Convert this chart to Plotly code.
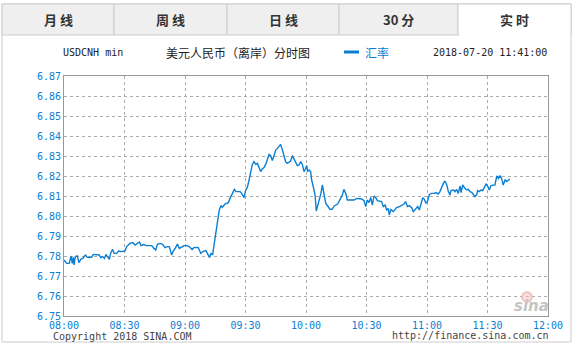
import plotly.graph_objects as go

# ---- data ----
day = "2018-07-20"
times = [
    "08:00:00", "08:01:18", "08:02:36", "08:03:30", "08:04:06", "08:04:36", "08:05:00", "08:05:36",
    "08:06:36", "08:07:24", "08:08:24", "08:09:18", "08:10:36", "08:11:36", "08:13:42", "08:14:30",
    "08:17:30", "08:18:12", "08:19:12", "08:20:00", "08:20:48", "08:21:42", "08:22:30", "08:23:06",
    "08:24:06", "08:24:54", "08:26:06", "08:27:06", "08:28:18", "08:30:12", "08:31:06", "08:32:42",
    "08:34:06", "08:35:12", "08:36:24", "08:37:24", "08:38:12", "08:39:18", "08:41:00", "08:43:30",
    "08:44:36", "08:45:30", "08:46:18", "08:47:36", "08:48:54", "08:50:06", "08:51:12", "08:52:12",
    "08:53:24", "08:54:12", "08:55:24", "08:56:12", "08:57:12", "08:58:24", "08:59:30", "09:00:48",
    "09:02:06", "09:03:30", "09:04:30", "09:06:36", "09:07:48", "09:08:48", "09:10:18", "09:11:06",
    "09:12:06", "09:12:54", "09:13:42", "09:14:24", "09:15:00", "09:15:42", "09:16:18", "09:17:00",
    "09:17:54", "09:18:30", "09:19:48", "09:21:30", "09:22:18", "09:23:30", "09:24:30", "09:25:18",
    "09:27:18", "09:28:06", "09:29:18", "09:30:06", "09:30:54", "09:31:42", "09:32:42", "09:33:24",
    "09:34:12", "09:35:06", "09:35:54", "09:36:42", "09:37:30", "09:38:18", "09:39:12", "09:40:00",
    "09:40:48", "09:41:42", "09:42:30", "09:43:18", "09:44:06", "09:45:00", "09:45:48", "09:46:36",
    "09:47:24", "09:48:18", "09:49:06", "09:49:54", "09:50:42", "09:51:36", "09:52:24", "09:53:12",
    "09:54:00", "09:54:54", "09:55:42", "09:56:30", "09:57:24", "09:58:12", "09:59:00", "09:59:30",
    "10:00:24", "10:00:48", "10:01:30", "10:02:18", "10:02:48", "10:03:36", "10:04:30", "10:05:06",
    "10:05:48", "10:06:36", "10:07:24", "10:08:06", "10:08:54", "10:09:48", "10:10:48", "10:11:54",
    "10:13:06", "10:14:00", "10:15:42", "10:16:54", "10:18:00", "10:18:48", "10:19:42", "10:20:30",
    "10:21:30", "10:22:42", "10:23:48", "10:25:06", "10:26:18", "10:27:36", "10:28:48", "10:29:36",
    "10:30:24", "10:31:12", "10:32:06", "10:32:54", "10:33:42", "10:34:36", "10:35:24", "10:36:12",
    "10:37:30", "10:38:18", "10:39:12", "10:40:00", "10:40:48", "10:41:18", "10:42:06", "10:43:18",
    "10:44:54", "10:46:18", "10:47:24", "10:48:36", "10:49:24", "10:50:18", "10:51:12", "10:52:24",
    "10:53:12", "10:54:24", "10:55:24", "10:56:12", "10:57:00", "10:57:54", "10:58:42", "10:59:30",
    "11:00:12", "11:01:12", "11:02:18", "11:03:36", "11:04:30", "11:05:36", "11:06:24", "11:07:18",
    "11:08:06", "11:08:54", "11:09:48", "11:10:36", "11:11:24", "11:11:54", "11:13:06", "11:13:54",
    "11:14:42", "11:15:30", "11:16:24", "11:16:54", "11:17:42", "11:18:48", "11:19:42", "11:20:30",
    "11:21:18", "11:22:12", "11:23:00", "11:23:48", "11:24:36", "11:25:06", "11:25:54", "11:26:48",
    "11:27:36", "11:28:24", "11:29:18", "11:30:06", "11:30:54", "11:31:42", "11:32:36", "11:33:42",
    "11:34:36", "11:35:24", "11:36:12", "11:37:00", "11:37:48", "11:38:42", "11:39:30", "11:40:18",
    "11:41:00",
]
rate = [
    6.7780, 6.7763, 6.7763, 6.7800, 6.7763, 6.7793, 6.7755, 6.7797,
    6.7800, 6.7767, 6.7785, 6.7788, 6.7805, 6.7793, 6.7793, 6.7808,
    6.7805, 6.7792, 6.7797, 6.7788, 6.7808, 6.7797, 6.7783, 6.7813,
    6.7833, 6.7813, 6.7813, 6.7825, 6.7822, 6.7825, 6.7847, 6.7863,
    6.7867, 6.7855, 6.7863, 6.7870, 6.7852, 6.7857, 6.7852, 6.7852,
    6.7838, 6.7830, 6.7858, 6.7863, 6.7858, 6.7842, 6.7847, 6.7847,
    6.7805, 6.7825, 6.7843, 6.7860, 6.7838, 6.7847, 6.7852, 6.7852,
    6.7847, 6.7833, 6.7843, 6.7842, 6.7813, 6.7822, 6.7827, 6.7813,
    6.7793, 6.7813, 6.7805, 6.7855, 6.7897, 6.7947, 6.7990, 6.8030,
    6.8052, 6.8043, 6.8060, 6.8067, 6.8088, 6.8117, 6.8133, 6.8122,
    6.8122, 6.8113, 6.8092, 6.8130, 6.8143, 6.8177, 6.8230, 6.8258,
    6.8272, 6.8258, 6.8263, 6.8243, 6.8222, 6.8235, 6.8242, 6.8258,
    6.8288, 6.8308, 6.8302, 6.8277, 6.8300, 6.8330, 6.8338, 6.8350,
    6.8358, 6.8330, 6.8297, 6.8272, 6.8263, 6.8272, 6.8275, 6.8302,
    6.8288, 6.8272, 6.8252, 6.8255, 6.8272, 6.8258, 6.8222, 6.8230,
    6.8252, 6.8222, 6.8230, 6.8222, 6.8180, 6.8147, 6.8105, 6.8025,
    6.8050, 6.8080, 6.8113, 6.8155, 6.8105, 6.8063, 6.8050, 6.8033,
    6.8035, 6.8050, 6.8060, 6.8080, 6.8105, 6.8133, 6.8113, 6.8080,
    6.8080, 6.8077, 6.8080, 6.8088, 6.8085, 6.8085, 6.8077, 6.8047,
    6.8080, 6.8067, 6.8092, 6.8055, 6.8100, 6.8092, 6.8077, 6.8075,
    6.8072, 6.8047, 6.8055, 6.8030, 6.8038, 6.8005, 6.8033, 6.8022,
    6.8042, 6.8047, 6.8055, 6.8060, 6.8072, 6.8047, 6.8052, 6.8042,
    6.8022, 6.8038, 6.8047, 6.8030, 6.8055, 6.8092, 6.8083, 6.8063,
    6.8072, 6.8108, 6.8113, 6.8113, 6.8117, 6.8110, 6.8122, 6.8147,
    6.8163, 6.8175, 6.8155, 6.8122, 6.8105, 6.8127, 6.8130, 6.8122,
    6.8133, 6.8113, 6.8150, 6.8117, 6.8155, 6.8138, 6.8130, 6.8133,
    6.8122, 6.8118, 6.8108, 6.8097, 6.8105, 6.8127, 6.8122, 6.8130,
    6.8127, 6.8143, 6.8160, 6.8150, 6.8130, 6.8152, 6.8155, 6.8155,
    6.8200, 6.8188, 6.8202, 6.8188, 6.8155, 6.8180, 6.8172, 6.8177,
    6.8185,
]
tab_labels = ["月 线", "周 线", "日 线", "30 分", "实 时"]
series_name = "汇率"
symbol_label = "USDCNH min"
chart_title = "美元人民币（离岸）分时图"
stamp = "2018-07-20 11:41:00"
x_start, x_end = "08:00", "12:00"
y_min, y_max = 6.75, 6.87

# ---- layout helpers (pixel -> paper) ----
W, H = 577, 345
L, R, T, B = 64, 548, 76, 316


def px(x):
    return (x - L) / (R - L)


def py(y):
    return (B - y) / (B - T)


BLUE = "#0a7ed2"
MONO = "DejaVu Sans Mono"
CJK = "Noto Sans CJK SC"

fig = go.Figure()
fig.add_trace(go.Scatter(
    x=[f"{day} {t}" for t in times], y=rate, mode="lines", name=series_name,
    line=dict(color=BLUE, width=1.4), showlegend=False, hoverinfo="x+y",
))

shapes = []
# outer frame
shapes.append(dict(type="rect", xref="paper", yref="paper", x0=px(2), x1=px(571), y0=py(342), y1=py(4),
                   line=dict(color="#cccccc", width=1), fillcolor="rgba(0,0,0,0)", layer="below"))
# tabs
edges = [2, 114, 227, 339, 458, 571]
for i in range(5):
    active = i == 4
    shapes.append(dict(type="rect", xref="paper", yref="paper", x0=px(edges[i]), x1=px(edges[i + 1]),
                       y0=py(35), y1=py(4),
                       line=dict(color="#cccccc", width=1),
                       fillcolor="#ffffff" if active else "#efefef", layer="below"))
# erase bottom line under active tab
shapes.append(dict(type="line", xref="paper", yref="paper", x0=px(459), x1=px(570.5), y0=py(35), y1=py(35),
                   line=dict(color="#ffffff", width=2)))
# legend swatch
shapes.append(dict(type="line", xref="paper", yref="paper", x0=px(344), x1=px(359), y0=py(52), y1=py(52),
                   line=dict(color=BLUE, width=3)))
# watermark eye
shapes.append(dict(type="circle", xref="paper", yref="paper", x0=px(522), x1=px(532), y0=py(302), y1=py(292),
                   line=dict(color="#f2b8b8", width=1.5), fillcolor="rgba(245,190,190,0.5)"))

ann = []
for i, lab in enumerate(tab_labels):
    ann.append(dict(text=f"<b>{lab}</b>", xref="paper", yref="paper", x=px((edges[i] + edges[i + 1]) / 2),
                    y=py(20), xanchor="center", yanchor="middle", showarrow=False,
                    font=dict(family=CJK, size=13, color="#333333")))
ann += [
    dict(text=symbol_label, x=px(93), y=py(53), font=dict(family=MONO, size=10, color="#222222")),
    dict(text=chart_title, x=px(238), y=py(53), font=dict(family=CJK, size=12, color="#222222")),
    dict(text=series_name, x=px(377), y=py(53), font=dict(family=CJK, size=12, color=BLUE)),
    dict(text=stamp, x=px(490), y=py(53), font=dict(family=MONO, size=10, color="#222222")),
    dict(text="Copyright 2018 SINA.COM", x=px(122), y=py(336), font=dict(family=MONO, size=10, color="#444444")),
    dict(text="http://finance.sina.com.cn", x=px(470), y=py(335), font=dict(family=MONO, size=10, color="#444444")),
    dict(text="<b><i>sina</i></b>", x=px(531), y=py(306), font=dict(family="DejaVu Sans", size=15, color="#c4c4c4")),
]
for a in ann[5:]:
    a.update(xref="paper", yref="paper", xanchor="center", yanchor="middle", showarrow=False)

fig.update_layout(
    width=W, height=H,
    margin=dict(l=L, r=W - R, t=T, b=H - B, pad=0),
    paper_bgcolor="#ffffff", plot_bgcolor="#ffffff",
    shapes=shapes, annotations=ann,
    xaxis=dict(
        type="date", range=[f"{day} {x_start}", f"{day} {x_end}"],
        dtick=30 * 60 * 1000, tick0=f"{day} {x_start}", tickformat="%H:%M",
        showgrid=True, gridcolor="#aaaaaa", griddash="dot", gridwidth=1,
        showline=True, linecolor="#999999", linewidth=1, mirror=True,
        ticks="", zeroline=False,
        tickfont=dict(family=MONO, size=10, color=BLUE),
    ),
    yaxis=dict(
        range=[y_min, y_max], dtick=0.01, tick0=y_min, tickformat=".2f",
        showgrid=True, gridcolor="#aaaaaa", griddash="dot", gridwidth=1,
        showline=True, linecolor="#999999", linewidth=1, mirror=True,
        ticks="", zeroline=False,
        tickfont=dict(family=MONO, size=10, color=BLUE),
    ),
)

fig.write_html("out.html")
